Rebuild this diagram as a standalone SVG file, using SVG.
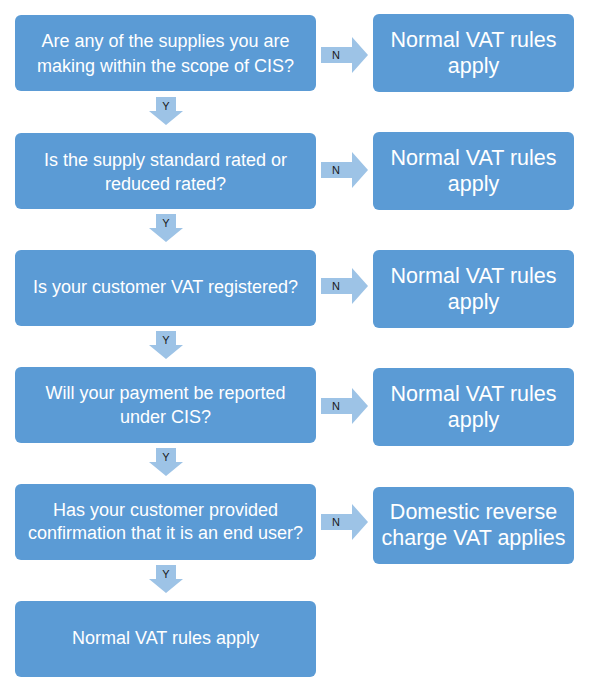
<svg xmlns="http://www.w3.org/2000/svg" width="592" height="692" viewBox="0 0 592 692">
<defs>
<style>
.box{fill:#5B9BD5;}
.q{font-family:"Liberation Sans",Arial,sans-serif;font-size:18px;fill:#ffffff;text-anchor:middle;}
.r{font-family:"Liberation Sans",Arial,sans-serif;font-size:21.5px;fill:#ffffff;text-anchor:middle;}
.arr{fill:#9DC3E6;}
.lbl{font-family:"Liberation Sans",Arial,sans-serif;font-size:11px;fill:#1a1a1a;text-anchor:middle;}
</style>
</defs>
<rect width="592" height="692" fill="#ffffff"/>
<g id="connectors">
  <g id="n1"><path class="arr" d="M321,47 H352 V37 L368,55 L352,73 V63 H321 Z"/><text class="lbl" x="336" y="59">N</text></g>
  <g id="n2"><path class="arr" d="M321,162 H352 V152 L368,170 L352,188 V178 H321 Z"/><text class="lbl" x="336" y="174">N</text></g>
  <g id="n3"><path class="arr" d="M321,278 H352 V268 L368,286 L352,304 V294 H321 Z"/><text class="lbl" x="336" y="290">N</text></g>
  <g id="n4"><path class="arr" d="M321,398 H352 V388 L368,406 L352,424 V414 H321 Z"/><text class="lbl" x="336" y="410">N</text></g>
  <g id="n5"><path class="arr" d="M321,514 H352 V504 L368,522 L352,540 V530 H321 Z"/><text class="lbl" x="336" y="526">N</text></g>
  <g id="y1"><path class="arr" d="M156,97 H176 V111 H183 L166,125 L149,111 H156 Z"/><text class="lbl" x="166" y="110">Y</text></g>
  <g id="y2"><path class="arr" d="M156,214 H176 V228 H183 L166,242 L149,228 H156 Z"/><text class="lbl" x="166" y="227">Y</text></g>
  <g id="y3"><path class="arr" d="M156,331 H176 V345 H183 L166,359 L149,345 H156 Z"/><text class="lbl" x="166" y="344">Y</text></g>
  <g id="y4"><path class="arr" d="M156,448 H176 V462 H183 L166,476 L149,462 H156 Z"/><text class="lbl" x="166" y="461">Y</text></g>
  <g id="y5"><path class="arr" d="M156,565 H176 V579 H183 L166,593 L149,579 H156 Z"/><text class="lbl" x="166" y="578">Y</text></g>
</g>
<g id="q1"><rect class="box" x="15" y="15" width="301" height="76" rx="6"/><text class="q" x="165.5" y="47">Are any of the supplies you are</text><text class="q" x="165.5" y="72">making within the scope of CIS?</text></g>
<g id="q2"><rect class="box" x="15" y="133" width="301" height="76" rx="6"/><text class="q" x="165.5" y="166">Is the supply standard rated or</text><text class="q" x="165.5" y="190">reduced rated?</text></g>
<g id="q3"><rect class="box" x="15" y="250" width="301" height="76" rx="6"/><text class="q" x="165.5" y="293">Is your customer VAT registered?</text></g>
<g id="q4"><rect class="box" x="15" y="367" width="301" height="76" rx="6"/><text class="q" x="165.5" y="399">Will your payment be reported</text><text class="q" x="165.5" y="423">under CIS?</text></g>
<g id="q5"><rect class="box" x="15" y="484" width="301" height="76" rx="6"/><text class="q" x="165.5" y="516">Has your customer provided</text><text class="q" x="165.5" y="539">confirmation that it is an end user?</text></g>
<g id="end"><rect class="box" x="15" y="601" width="301" height="76" rx="6"/><text class="q" x="165.5" y="644">Normal VAT rules apply</text></g>
<g id="r1"><rect class="box" x="373" y="14" width="201" height="78" rx="6"/><text class="r" x="473.5" y="47">Normal VAT rules</text><text class="r" x="473.5" y="73">apply</text></g>
<g id="r2"><rect class="box" x="373" y="132" width="201" height="78" rx="6"/><text class="r" x="473.5" y="165">Normal VAT rules</text><text class="r" x="473.5" y="191">apply</text></g>
<g id="r3"><rect class="box" x="373" y="250" width="201" height="78" rx="6"/><text class="r" x="473.5" y="283">Normal VAT rules</text><text class="r" x="473.5" y="309">apply</text></g>
<g id="r4"><rect class="box" x="373" y="368" width="201" height="78" rx="6"/><text class="r" x="473.5" y="401">Normal VAT rules</text><text class="r" x="473.5" y="427">apply</text></g>
<g id="r5"><rect class="box" x="373" y="487" width="201" height="77" rx="6"/><text class="r" x="473.5" y="519">Domestic reverse</text><text class="r" x="473.5" y="545">charge VAT applies</text></g>
</svg>
